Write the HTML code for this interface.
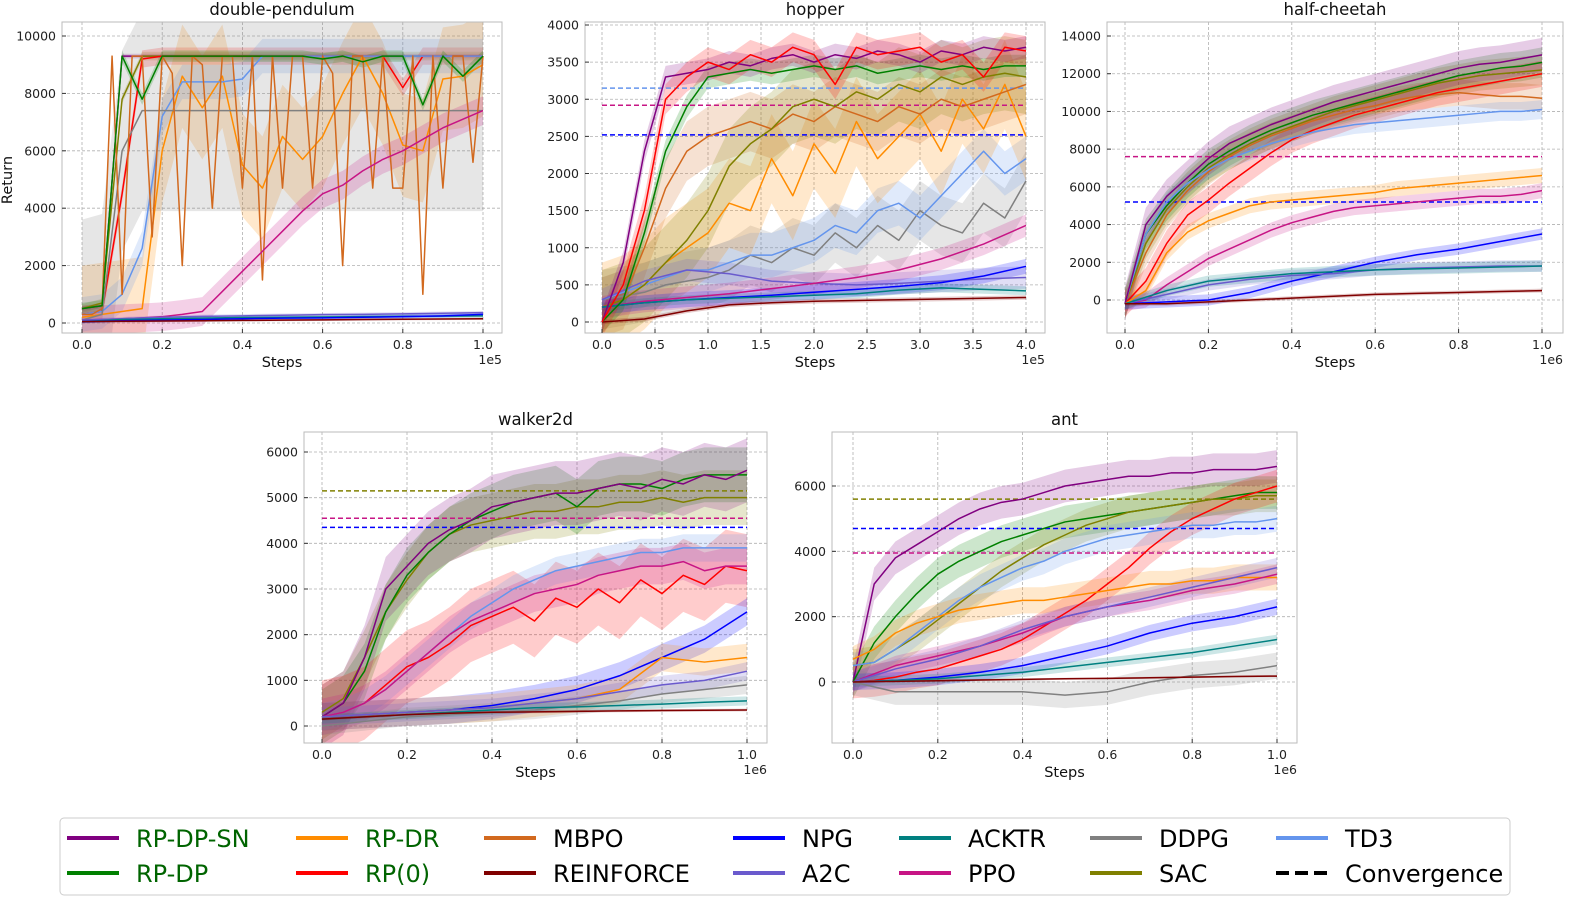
<!DOCTYPE html>
<html><head><meta charset="utf-8"><style>
html,body{margin:0;padding:0;background:#fff;}
svg{display:block;font-family:"DejaVu Sans","Liberation Sans",sans-serif;}
</style></head><body>
<svg id="fig" width="1569" height="901" viewBox="0 0 1569 901" xmlns="http://www.w3.org/2000/svg"></svg>
<script>
// ---------- colours ----------
const C_SN="#800080",C_DP="#008000",C_DR="#ff8c00",C_R0="#ff0000",C_MB="#d2691e",C_RE="#800000",
C_NPG="#0000ff",C_A2C="#6a5acd",C_ACK="#008080",C_PPO="#c71585",C_DDPG="#808080",C_SAC="#808000",C_TD3="#6495ed";

// ---------- double-pendulum data (x 0..1e5) ----------
const DP_SN=[500,600,9300,9300,9300,9300,9300,9300,9300,9300,9300,9300,9300,9300,9300,9300,9300,9300,9300,9300,9300];
const DP_DP=[500,600,9300,7800,9300,9300,9300,9300,9300,9300,9300,9300,9200,9300,9100,9300,9300,7600,9300,8600,9300];
const DP_SAC=[500,700,7800,9300,9300,9300,9300,9300,9300,9300,9300,9300,9300,9300,9300,9300,9300,9300,9300,9300,9300];
const DP_R0=[300,400,4500,9200,9300,9300,9300,9300,9300,9300,9300,9300,9300,9300,9300,9300,8200,9300,9300,9300,9300];
const DP_DR=[200,300,400,500,6000,8600,7500,8600,5500,4700,6500,5700,6500,8000,9300,8000,6200,6000,8500,8600,9000];
const DP_TD3=[300,400,1000,2600,7200,8400,8400,8400,8500,9300,9300,9300,9300,9300,9300,9300,9300,9300,9300,9300,9300];
const DP_DDPG=[100,300,6000,7400,7400,7400,7400,7400,7400,7400,7400,7400,7400,7400,7400,7400,7400,7400,7400,7400,7400];
const DP_MB=[300,300,500,9300,1000,9300,9300,3000,9300,8700,2000,9300,9000,4000,9300,9300,4700,9300,1500,9300,4700,9300,9300,4700,9300,8700,2000,9300,9300,4700,9300,4700,4700,9300,1000,9300,4700,9300,9300,5600,9300];
const DP_PPO=[100,120,150,180,220,300,400,1100,1800,2500,3200,3900,4500,4800,5300,5700,6000,6400,6800,7100,7400];
const DP_NPG=[50,80,100,120,150,170,180,200,220,250,300];
const DP_A2C=[100,150,200,230,250,270,290,300,320,340,360];
const DP_ACK=[50,120,150,170,190,200,210,220,230,240,250];
const DP_RE=[50,60,70,80,90,100,110,120,130,140,150];
const DP_BAND=[80,150,300,1800,600,3500,0,500,60,60,60,40,200];

// ---------- hopper data (x 0..4e5) ----------
const HO_SN=[0,800,2300,3300,3350,3400,3500,3450,3550,3600,3500,3600,3550,3650,3600,3500,3650,3600,3700,3650,3700];
const HO_DP=[0,300,1200,2300,2900,3300,3350,3400,3350,3400,3450,3400,3450,3350,3400,3450,3400,3450,3400,3450,3450];
const HO_R0=[0,500,1500,3000,3300,3500,3400,3600,3500,3700,3600,3200,3700,3600,3650,3700,3500,3600,3300,3700,3650];
const HO_MB=[200,300,1000,1800,2300,2500,2600,2700,2600,2800,2700,2900,2800,2700,2900,2800,3000,2900,3000,3100,3200];
const HO_SAC=[200,300,500,800,1100,1500,2100,2400,2600,2900,3000,2900,3100,3000,3200,3100,3300,3200,3300,3350,3300];
const HO_DR=[200,300,500,800,1000,1200,1600,1500,2200,1700,2400,2000,2700,2200,2500,2800,2300,3000,2600,3200,2500];
const HO_TD3=[300,400,500,600,700,700,800,900,900,1000,1100,1300,1200,1500,1600,1400,1700,2000,2300,2000,2200];
const HO_DDPG=[300,350,400,500,550,600,700,900,800,1000,900,1200,1000,1300,1100,1500,1300,1200,1600,1400,1900];
const HO_A2C=[300,550,700,650,550,520,500,520,550,580,600];
const HO_PPO=[200,280,330,380,450,520,600,700,850,1050,1300];
const HO_NPG=[200,260,300,330,360,400,440,480,530,620,750];
const HO_ACK=[200,260,300,320,340,360,380,430,460,440,420];
const HO_RE=[0,40,150,230,260,280,290,300,310,320,330];
const HO_BAND=[400,300,600,400,500,150,150,100,60,30,150,150,200];
const HO_CONV=[3150,2920,2520];

// ---------- half-cheetah data (x 0..1e6) ----------
const HC_SN=[-200,4000,5500,6500,7500,8300,8800,9300,9700,10100,10500,10800,11100,11400,11700,12000,12300,12500,12600,12800,13000];
const HC_DP=[-200,3500,5000,6200,7200,7900,8500,9000,9400,9800,10100,10400,10700,11000,11300,11600,11900,12100,12300,12400,12600];
const HC_SAC=[-200,3000,4800,6000,7000,7700,8300,8800,9200,9600,10000,10300,10600,10900,11200,11500,11700,11900,12000,12100,12200];
const HC_MB=[-200,2500,4500,5800,6800,7600,8200,8700,9100,9500,9800,10100,10300,10600,10800,10900,11000,10900,10800,10800,10700];
const HC_R0=[-200,1000,3000,4500,5300,6200,7000,7800,8500,9000,9400,9800,10100,10400,10700,11000,11200,11400,11600,11800,12000];
const HC_TD3=[-200,3500,5200,6200,6900,7500,7900,8300,8600,8900,9100,9300,9400,9500,9600,9700,9800,9900,10000,10000,10100];
const HC_DR=[-200,500,2500,3600,4200,4600,5000,5200,5300,5400,5500,5600,5700,5900,6000,6100,6200,6300,6400,6500,6600];
const HC_PPO=[-200,0,800,1500,2200,2700,3200,3700,4100,4400,4700,4900,5000,5100,5200,5300,5400,5500,5500,5600,5800];
const HC_NPG=[-200,-100,0,400,1000,1500,2000,2400,2700,3100,3500];
const HC_A2C=[-200,300,800,1100,1300,1400,1600,1700,1750,1800,1800];
const HC_ACK=[-200,500,1000,1200,1400,1500,1600,1650,1700,1750,1800];
const HC_RE=[-200,-200,-100,0,100,200,300,350,400,450,500];
const HC_BAND=[700,800,800,700,500,900,400,400,300,300,300,100];
const HC_CONV=[7600,5200];

// ---------- walker2d data (x 0..1e6) ----------
const WA_SN=[200,500,1500,3000,3500,4000,4300,4500,4800,4900,5000,5100,5100,5200,5300,5200,5400,5300,5500,5400,5600];
const WA_DP=[200,500,1200,2500,3300,3800,4200,4500,4700,4900,5000,5100,4800,5200,5300,5300,5200,5400,5500,5500,5500];
const WA_SAC=[300,600,1500,2500,3200,3800,4200,4400,4500,4600,4700,4700,4800,4800,4900,4900,5000,4900,5000,5000,5000];
const WA_R0=[200,300,500,900,1300,1500,1800,2200,2400,2600,2300,2800,2600,3000,2700,3200,2900,3300,3100,3500,3400];
const WA_TD3=[200,300,500,800,1200,1600,2000,2400,2700,3000,3200,3400,3500,3600,3700,3800,3800,3900,3900,3900,3900];
const WA_PPO=[200,300,500,800,1200,1600,2000,2300,2500,2700,2900,3000,3100,3300,3400,3500,3500,3600,3400,3500,3500];
const WA_NPG=[200,250,300,350,450,600,800,1100,1500,1900,2500];
const WA_DR=[200,250,300,350,400,500,600,800,1500,1400,1500];
const WA_A2C=[200,250,300,350,400,500,600,750,900,1000,1200];
const WA_DDPG=[0,100,200,250,300,350,450,550,700,800,900];
const WA_ACK=[150,200,250,300,350,400,420,450,480,520,550];
const WA_RE=[150,200,250,280,300,310,320,330,340,345,350];
const WA_BAND=[600,600,700,800,300,400,300,300,200,200,100,30];
const WA_CONV=[5150,4550,4350];

// ---------- ant data (x 0..1e6) ----------
const AN_SN=[0,3000,3800,4200,4600,5000,5300,5500,5600,5800,6000,6100,6200,6300,6300,6400,6400,6500,6500,6500,6600];
const AN_DP=[0,1200,2000,2700,3300,3700,4000,4300,4500,4700,4900,5000,5100,5200,5300,5400,5500,5600,5700,5800,5800];
const AN_SAC=[500,600,1000,1400,1900,2400,2900,3400,3800,4200,4500,4800,5000,5200,5300,5400,5500,5600,5600,5700,5700];
const AN_R0=[0,50,150,300,400,600,800,1000,1300,1700,2100,2500,3000,3500,4100,4600,5000,5300,5600,5800,6000];
const AN_TD3=[500,600,1000,1500,2000,2500,2900,3200,3500,3700,4000,4200,4400,4500,4600,4700,4800,4800,4900,4900,5000];
const AN_DR=[700,1000,1500,1800,2000,2200,2300,2400,2500,2500,2600,2700,2800,2900,3000,3000,3100,3100,3200,3200,3200];
const AN_PPO=[0,500,800,1100,1500,2000,2300,2500,2800,3000,3300];
const AN_A2C=[0,400,700,1100,1600,2000,2300,2600,2900,3200,3500];
const AN_NPG=[0,50,150,300,500,800,1100,1500,1800,2000,2300];
const AN_ACK=[0,50,100,200,300,450,600,750,900,1100,1300];
const AN_DDPG=[0,-300,-300,-300,-300,-400,-300,0,200,300,500];
const AN_RE=[0,20,40,60,80,100,110,130,150,170,180];
const AN_BAND=[500,500,500,500,400,400,300,300,250,150,400,30];
const AN_CONV=[5600,4700,3950];

const NS="http://www.w3.org/2000/svg";
const svg=document.getElementById('fig');
function mk(tag,attrs,parent){const e=document.createElementNS(NS,tag);for(const k in attrs)e.setAttribute(k,attrs[k]);(parent||svg).appendChild(e);return e;}
const defs=mk('defs',{});

function drawPanel(p){
  const g=mk('g',{});
  
  
  const cp=mk('clipPath',{id:'clip-'+p.key},defs);
  mk('rect',{x:p.left,y:p.top,width:p.right-p.left,height:p.bot-p.top},cp);
  const X=v=>p.x0px+(v-p.x0v)*(p.x1px-p.x0px)/(p.x1v-p.x0v);
  const Y=v=>p.y0px+(v-p.y0v)*(p.y1px-p.y0px)/(p.y1v-p.y0v);
  p.xticks.forEach(t=>{const l=mk('line',{x1:X(t),x2:X(t),y1:p.top,y2:p.bot,stroke:'#b0b0b0','stroke-width':0.8,'stroke-dasharray':'3,2'},g);
    });
  p.yticks.forEach(t=>{const l=mk('line',{x1:p.left,x2:p.right,y1:Y(t),y2:Y(t),stroke:'#b0b0b0','stroke-width':0.8,'stroke-dasharray':'3,2'},g);
    });
  const cg=mk('g',{'clip-path':'url(#clip-'+p.key+')'},g);
  const xsOf=(arr)=>arr.map((_,i)=>p.xmax*i/(arr.length-1));
  p.series.forEach((s,i)=>{const b=p.band[i]||0;if(!b)return;const xs=xsOf(s.d);
    let pts=xs.map((x,j)=>X(x)+','+Y(s.d[j]+b)).concat(xs.slice().reverse().map((x,j)=>X(x)+','+Y(s.d[s.d.length-1-j]-b)));
    const poly=mk('polygon',{points:pts.join(' '),fill:s.c,'fill-opacity':0.2,stroke:'none'},cg);
    });
  (p.conv||[]).forEach((v,i)=>{const l=mk('line',{x1:X(0),x2:X(p.xmax),y1:Y(v),y2:Y(v),stroke:p.convC[i],'stroke-width':1.5,'stroke-dasharray':'5,3'},cg);
    });
  p.series.forEach(s=>{const xs=xsOf(s.d);
    const pl=mk('polyline',{points:xs.map((x,j)=>X(x)+','+Y(s.d[j])).join(' '),fill:'none',stroke:s.c,'stroke-width':1.5,'stroke-linejoin':'round'},cg);
    });
  const fr=mk('rect',{x:p.left,y:p.top,width:p.right-p.left,height:p.bot-p.top,fill:'none',stroke:'#bbbbbb','stroke-width':1},g);
  
  p.xticks.forEach((t,i)=>{mk('line',{x1:X(t),x2:X(t),y1:p.bot,y2:p.bot-4,stroke:'#333'},g);
    const tx=mk('text',{x:X(t),y:p.bot+16,'font-size':12.5,'text-anchor':'middle',fill:'#222'},g);tx.textContent=p.xlab[i];
    });
  p.yticks.forEach((t,i)=>{mk('line',{x1:p.left,x2:p.left+4,y1:Y(t),y2:Y(t),stroke:'#333'},g);
    const tx=mk('text',{x:p.left-6,y:Y(t)+4.5,'font-size':12.5,'text-anchor':'end',fill:'#222'},g);tx.textContent=p.ylab[i];
    });
  const ti=mk('text',{x:(p.left+p.right)/2,y:p.top-7,'font-size':16.5,'text-anchor':'middle',fill:'#111'},g);ti.textContent=p.title;
  
  const xl=mk('text',{x:(p.left+p.right)/2,y:p.bot+34,'font-size':14.5,'text-anchor':'middle',fill:'#111'},g);xl.textContent='Steps';
  
  const off=mk('text',{x:p.right,y:p.bot+31,'font-size':12.5,'text-anchor':'end',fill:'#222'},g);off.textContent=p.offset;
  
}
const r=(a,b,s)=>{const o=[];for(let v=a;v<=b+1e-9;v+=s)o.push(+v.toFixed(2));return o;};
const X10=r(0,1,0.2),X10L=X10.map(v=>v.toFixed(1));
function S(n,c,d){return {n:n,c:c,d:d};}

drawPanel({key:'double-pendulum',title:'double-pendulum',left:62,right:502,top:22,bot:333,x0v:0,x0px:82,x1v:1,x1px:483,y0v:0,y0px:323,y1v:10000,y1px:36,xmax:1,
 xticks:X10,xlab:X10L,yticks:r(0,10000,2000),ylab:r(0,10000,2000).map(String),offset:'1e5',band:DP_BAND,
 series:[S('rp-dp-sn',C_SN,DP_SN),S('sac',C_SAC,DP_SAC),S('rp-0',C_R0,DP_R0),S('rp-dr',C_DR,DP_DR),S('td3',C_TD3,DP_TD3),S('ddpg',C_DDPG,DP_DDPG),S('mbpo',C_MB,DP_MB),S('ppo',C_PPO,DP_PPO),S('a2c',C_A2C,DP_A2C),S('acktr',C_ACK,DP_ACK),S('npg',C_NPG,DP_NPG),S('reinforce',C_RE,DP_RE),S('rp-dp',C_DP,DP_DP)]});
drawPanel({key:'hopper',title:'hopper',left:585,right:1045,top:22,bot:333,x0v:0,x0px:602,x1v:4,x1px:1026,y0v:0,y0px:322,y1v:4000,y1px:25,xmax:4,
 xticks:r(0,4,0.5),xlab:r(0,4,0.5).map(v=>v.toFixed(1)),yticks:r(0,4000,500),ylab:r(0,4000,500).map(String),offset:'1e5',band:HO_BAND,
 conv:HO_CONV,convC:[C_TD3,C_PPO,C_NPG],
 series:[S('ddpg',C_DDPG,HO_DDPG),S('td3',C_TD3,HO_TD3),S('rp-dr',C_DR,HO_DR),S('mbpo',C_MB,HO_MB),S('sac',C_SAC,HO_SAC),S('a2c',C_A2C,HO_A2C),S('ppo',C_PPO,HO_PPO),S('npg',C_NPG,HO_NPG),S('acktr',C_ACK,HO_ACK),S('reinforce',C_RE,HO_RE),S('rp-dp',C_DP,HO_DP),S('rp-dp-sn',C_SN,HO_SN),S('rp-0',C_R0,HO_R0)]});
drawPanel({key:'half-cheetah',title:'half-cheetah',left:1107,right:1563,top:22,bot:333,x0v:0,x0px:1125,x1v:1,x1px:1542,y0v:0,y0px:300,y1v:14000,y1px:36,xmax:1,
 xticks:X10,xlab:X10L,yticks:r(0,14000,2000),ylab:r(0,14000,2000).map(String),offset:'1e6',band:HC_BAND,
 conv:HC_CONV,convC:[C_PPO,C_NPG],
 series:[S('mbpo',C_MB,HC_MB),S('sac',C_SAC,HC_SAC),S('rp-dp',C_DP,HC_DP),S('rp-0',C_R0,HC_R0),S('td3',C_TD3,HC_TD3),S('rp-dp-sn',C_SN,HC_SN),S('rp-dr',C_DR,HC_DR),S('ppo',C_PPO,HC_PPO),S('npg',C_NPG,HC_NPG),S('a2c',C_A2C,HC_A2C),S('acktr',C_ACK,HC_ACK),S('reinforce',C_RE,HC_RE)]});
drawPanel({key:'walker2d',title:'walker2d',left:304,right:767,top:432,bot:743,x0v:0,x0px:322,x1v:1,x1px:747,y0v:0,y0px:726,y1v:6000,y1px:452,xmax:1,
 xticks:X10,xlab:X10L,yticks:r(0,6000,1000),ylab:r(0,6000,1000).map(String),offset:'1e6',band:WA_BAND,
 conv:WA_CONV,convC:[C_SAC,C_PPO,C_NPG],
 series:[S('sac',C_SAC,WA_SAC),S('rp-dp',C_DP,WA_DP),S('rp-dp-sn',C_SN,WA_SN),S('rp-0',C_R0,WA_R0),S('td3',C_TD3,WA_TD3),S('ppo',C_PPO,WA_PPO),S('npg',C_NPG,WA_NPG),S('rp-dr',C_DR,WA_DR),S('a2c',C_A2C,WA_A2C),S('ddpg',C_DDPG,WA_DDPG),S('acktr',C_ACK,WA_ACK),S('reinforce',C_RE,WA_RE)]});
drawPanel({key:'ant',title:'ant',left:832,right:1297,top:432,bot:743,x0v:0,x0px:853,x1v:1,x1px:1277,y0v:0,y0px:682,y1v:6000,y1px:486,xmax:1,
 xticks:X10,xlab:X10L,yticks:r(0,6000,2000),ylab:r(0,6000,2000).map(String),offset:'1e6',band:AN_BAND,
 conv:AN_CONV,convC:[C_SAC,C_NPG,C_PPO],
 series:[S('rp-dp-sn',C_SN,AN_SN),S('rp-dp',C_DP,AN_DP),S('sac',C_SAC,AN_SAC),S('rp-0',C_R0,AN_R0),S('td3',C_TD3,AN_TD3),S('rp-dr',C_DR,AN_DR),S('ppo',C_PPO,AN_PPO),S('a2c',C_A2C,AN_A2C),S('npg',C_NPG,AN_NPG),S('acktr',C_ACK,AN_ACK),S('ddpg',C_DDPG,AN_DDPG),S('reinforce',C_RE,AN_RE)]});

const yl=mk('text',{x:12,y:180,'font-size':14.5,'text-anchor':'middle',fill:'#111',transform:'rotate(-90 12 180)'});
yl.textContent='Return';



const lg=mk('g',{});


mk('rect',{x:60,y:818,width:1450,height:77,rx:4,fill:'#fff',stroke:'#cccccc','stroke-width':1},lg);
const LEG_NAMES=['RP-DP-SN','RP-DP','RP-DR','RP(0)','MBPO','REINFORCE','NPG','A2C','ACKTR','PPO','DDPG','SAC','TD3','Convergence'];
const LEG_COLORS=[C_SN,C_DP,C_DR,C_R0,C_MB,C_RE,C_NPG,C_A2C,C_ACK,C_PPO,C_DDPG,C_SAC,C_TD3,'#000'];
const COLX=[67,296,484,733,899,1090,1276];
LEG_NAMES.forEach((n,i)=>{const col=Math.floor(i/2),row=i%2,y=row?873:838,x=COLX[col];
  const e=mk('g',{},lg);
  
  
  mk('line',{x1:x,x2:x+52,y1:y,y2:y,stroke:LEG_COLORS[i],'stroke-width':4,'stroke-dasharray':n==='Convergence'?'13,6':'none'},e);
  const t=mk('text',{x:x+69,y:y+9,'font-size':24,fill:i<4?'#006400':'#000'},e);t.textContent=n;});
</script>
</body></html>
